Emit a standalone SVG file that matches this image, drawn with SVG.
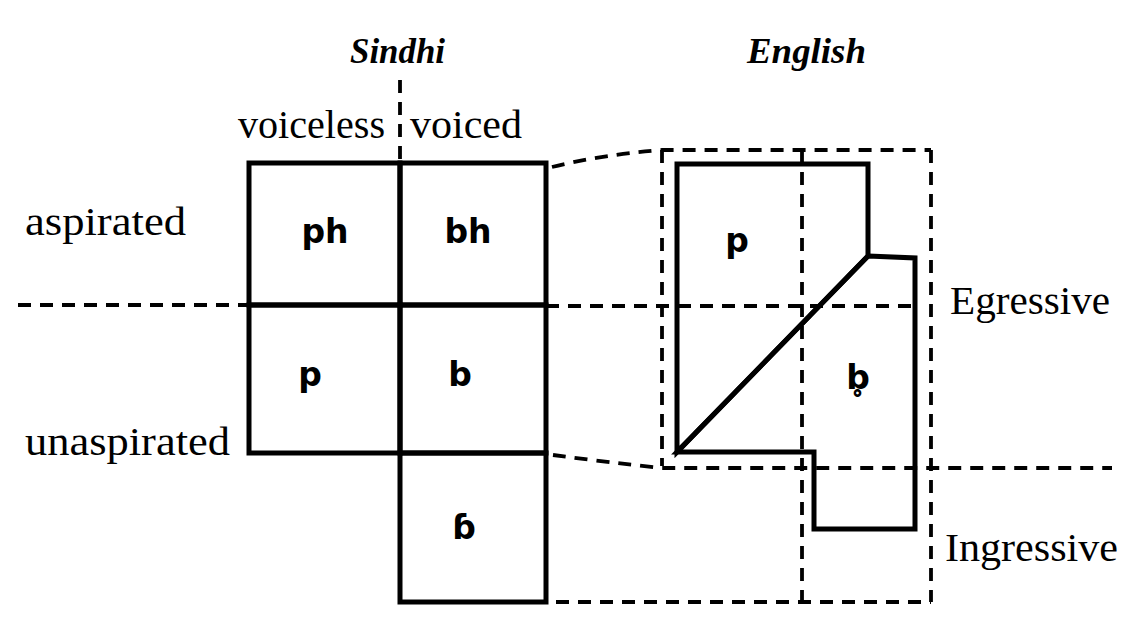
<svg xmlns="http://www.w3.org/2000/svg" width="1140" height="618" viewBox="0 0 1140 618">
<style>
.cell{fill:none;stroke:#000;stroke-width:5;stroke-linejoin:miter}
.dash{fill:none;stroke:#000;stroke-width:3.8;stroke-dasharray:13 9}
.lbl{font-family:"Liberation Serif",serif;font-size:40px;fill:#000}
.ttl{font-family:"Liberation Serif",serif;font-size:35px;font-style:italic;font-weight:bold;fill:#000}
.ph{font-family:"DejaVu Sans",sans-serif;font-size:33px;font-weight:bold;fill:#000;text-anchor:middle}
</style>
<rect width="1140" height="618" fill="#fff"/>
<g id="connectors">
<path class="dash" d="M400,80 V163"/>
<path class="dash" d="M18,305 H249"/>
<path class="dash" d="M546,306 H916"/>
<path class="dash" d="M552,167 Q600,155 662,150 H931"/>
<path class="dash" d="M553,455 Q605,462 662,468 H1112"/>
<path class="dash" d="M556,602 H931"/>
<path class="dash" d="M662,150 V466"/>
<path class="dash" d="M802,150 V602"/>
<path class="dash" d="M931,150 V602"/>
</g>
<g id="title-sindhi"><text class="ttl" x="350" y="63" textLength="95" lengthAdjust="spacingAndGlyphs">Sindhi</text></g>
<g id="title-english"><text class="ttl" x="747" y="63" textLength="119" lengthAdjust="spacingAndGlyphs">English</text></g>
<g id="label-voiceless"><text class="lbl" x="238" y="138" textLength="147" lengthAdjust="spacingAndGlyphs">voiceless</text></g>
<g id="label-voiced"><text class="lbl" x="410" y="138" textLength="112" lengthAdjust="spacingAndGlyphs">voiced</text></g>
<g id="label-aspirated"><text class="lbl" x="25" y="235" textLength="161" lengthAdjust="spacingAndGlyphs">aspirated</text></g>
<g id="label-unaspirated"><text class="lbl" x="25" y="455" textLength="205" lengthAdjust="spacingAndGlyphs">unaspirated</text></g>
<g id="label-egressive"><text class="lbl" x="950" y="314" textLength="160" lengthAdjust="spacingAndGlyphs">Egressive</text></g>
<g id="label-ingressive"><text class="lbl" x="945" y="561" textLength="173" lengthAdjust="spacingAndGlyphs">Ingressive</text></g>
<g id="cell-ph"><rect class="cell" x="249" y="163" width="151" height="142"/><text class="ph" x="325" y="243">ph</text></g>
<g id="cell-bh"><rect class="cell" x="400" y="163" width="146" height="142"/><text class="ph" x="468" y="243">bh</text></g>
<g id="cell-p"><rect class="cell" x="249" y="305" width="151" height="148"/><text class="ph" x="310" y="386">p</text></g>
<g id="cell-b"><rect class="cell" x="400" y="305" width="146" height="148"/><text class="ph" x="460" y="386">b</text></g>
<g id="cell-implosive"><rect class="cell" x="400" y="453" width="146" height="149"/><text class="ph" x="464" y="539">ɓ</text></g>
<g id="english-p"><polygon class="cell" points="677,164 868,164 868,256 677,452"/><text class="ph" x="737" y="252">p</text></g>
<g id="english-b"><polygon class="cell" points="868,256 915,258 915,529 814,529 814,452 677,452"/><text class="ph" x="858" y="389">b̥</text></g>
</svg>
